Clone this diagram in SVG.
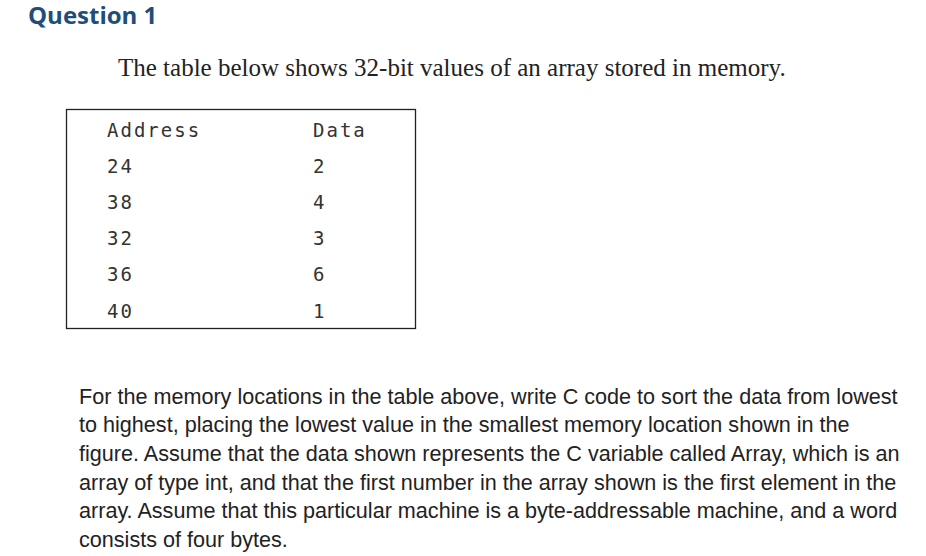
<svg xmlns="http://www.w3.org/2000/svg" width="926" height="556" viewBox="0 0 926 556">
<style>
.m{font-family:"DejaVu Sans Mono","Liberation Mono",monospace;font-size:19px;fill:#333;letter-spacing:2px}
.p{font-family:"Liberation Sans",Arial,sans-serif;font-size:21.6px;fill:#222}
</style>
<rect width="926" height="556" fill="#fff"/>
<text x="28" y="24" font-family="Open Sans,Noto Sans,sans-serif" font-weight="bold" font-size="24" fill="#1f4e79">Question 1</text>
<text x="118" y="76" font-family="Liberation Serif,serif" font-size="25" fill="#222">The table below shows 32-bit values of an array stored in memory.</text>
<rect x="66.5" y="109.5" width="349" height="219" fill="none" stroke="#222" stroke-width="1.3"/>
<g class="m">
<text x="107" y="137" class="m">Address</text><text x="313" y="137" class="m">Data</text>
<text x="107" y="173" class="m">24</text><text x="313" y="173" class="m">2</text>
<text x="107" y="209" class="m">38</text><text x="313" y="209" class="m">4</text>
<text x="107" y="245" class="m">32</text><text x="313" y="245" class="m">3</text>
<text x="107" y="281" class="m">36</text><text x="313" y="281" class="m">6</text>
<text x="107" y="318" class="m">40</text><text x="313" y="318" class="m">1</text>
</g>
<g class="p">
<text x="79" y="404" class="p">For the memory locations in the table above, write C code to sort the data from lowest</text>
<text x="79" y="432" class="p">to highest, placing the lowest value in the smallest memory location shown in the</text>
<text x="79" y="461" class="p">figure. Assume that the data shown represents the C variable called Array, which is an</text>
<text x="79" y="490" class="p">array of type int, and that the first number in the array shown is the first element in the</text>
<text x="79" y="518" class="p">array. Assume that this particular machine is a byte-addressable machine, and a word</text>
<text x="79" y="547" class="p">consists of four bytes.</text>
</g>
</svg>
